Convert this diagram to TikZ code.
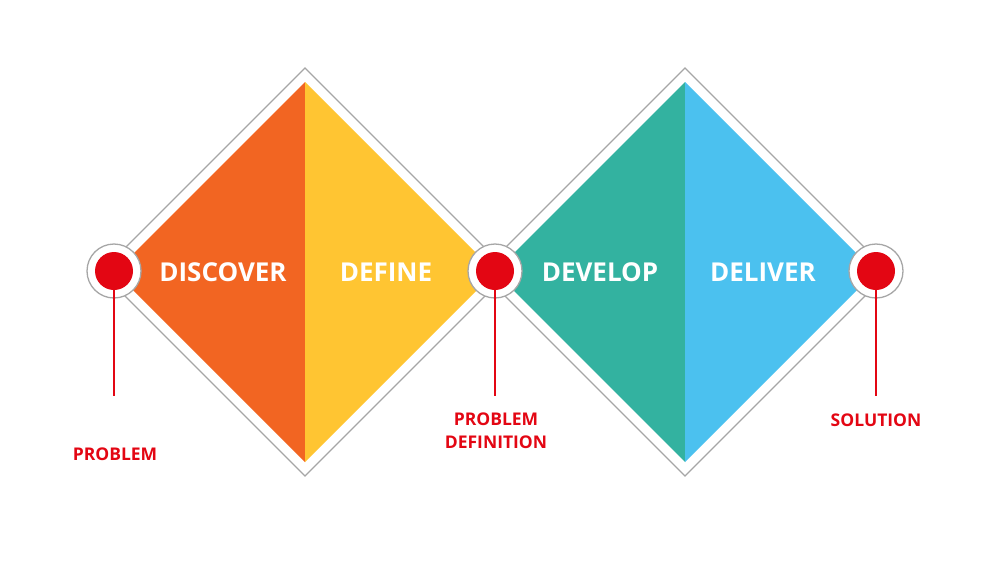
\documentclass[tikz,border=0pt]{standalone}
\usepackage{fontspec}
\setmainfont{Open Sans}
\begin{document}
\begin{tikzpicture}[x=1pt,y=-1pt,
  phase/.style={font=\fontsize{26}{30}\selectfont\bfseries,text=white},
  lab/.style={font=\fontsize{17.5}{23}\selectfont\bfseries,text=red1,align=center},
  dot/.style={circle,fill=red1,minimum size=38pt,inner sep=0pt},
  ring/.style={circle,fill=white,draw=gray!70,line width=1.3pt,minimum size=54pt,inner sep=0pt}]
\definecolor{red1}{HTML}{E30613}
\definecolor{orng}{HTML}{F26522}
\definecolor{yel}{HTML}{FFC532}
\definecolor{teal1}{HTML}{33B2A0}
\definecolor{sky}{HTML}{4BC1EF}
\useasboundingbox (0,0) rectangle (1000,563);
\foreach \c in {305,685}{
  \draw[gray!70,line width=1.3pt,fill=white] (\c,68) -- (\c+204,272) -- (\c,476) -- (\c-204,272) -- cycle;
}
\fill[orng] (305,82) -- (115,272) -- (305,462) -- cycle;
\fill[yel] (305,82) -- (495,272) -- (305,462) -- cycle;
\fill[teal1] (685,82) -- (495,272) -- (685,462) -- cycle;
\fill[sky] (685,82) -- (875,272) -- (685,462) -- cycle;
\node[ring] (r1) at (114,271) {};
\node[ring] (r2) at (495,271) {};
\node[ring] (r3) at (876,271) {};
\node[dot] (d1) at (114,271) {};
\node[dot] (d2) at (495,271) {};
\node[dot] (d3) at (876,271) {};
\coordinate (e1) at (114,396);
\coordinate (e2) at (495,396);
\coordinate (e3) at (876,396);
\draw[red1,line width=1.2pt] (d1) -- (e1);
\draw[red1,line width=1.2pt] (d2) -- (e2);
\draw[red1,line width=1.2pt] (d3) -- (e3);
\node[phase] (p1) at (223,272) {DISCOVER};
\node[phase] (p2) at (386,272) {DEFINE};
\node[phase] (p3) at (600,272) {DEVELOP};
\node[phase] (p4) at (763,272) {DELIVER};
\node[lab] (l1) at (115,454) {PROBLEM};
\node[lab] (l2) at (496,431) {PROBLEM\\DEFINITION};
\node[lab] (l3) at (876,420) {SOLUTION};
\end{tikzpicture}
\end{document}
